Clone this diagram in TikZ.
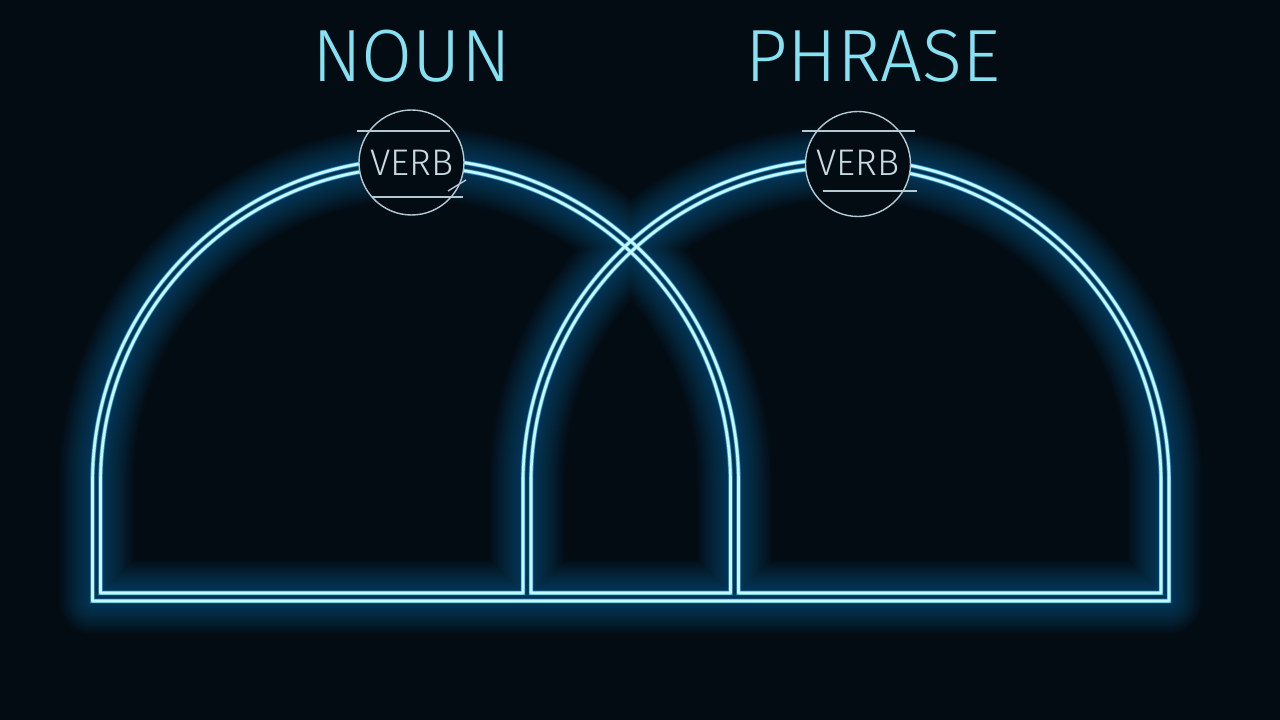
\documentclass[tikz,border=0pt]{standalone}
\usepackage{fontspec}
\IfFontExistsTF{Fira Sans Light}
  {\newfontfamily\neonfont{Fira Sans Light}}
  {\IfFontExistsTF{Lato Light}
    {\newfontfamily\neonfont{Lato Light}}
    {\IfFontExistsTF{Open Sans Light}
      {\newfontfamily\neonfont{Open Sans Light}}
      {\newfontfamily\neonfont{Fira Sans}}}}
\definecolor{night}{HTML}{030C13}
\definecolor{neon}{HTML}{C8F8FF}
\definecolor{halo}{HTML}{5CCBF0}
\definecolor{glow}{HTML}{1C8FDA}
\definecolor{title}{HTML}{86E2F2}
\definecolor{chalk}{HTML}{B2CAD4}

% outline of both arches, drawn as one line
\newcommand\archways{
  (92.5,238) -- (92.5,119) -- (1169,119) -- (1169,238)
  (92.5,238) arc[start angle=180, end angle=0, radius=323]
    -- (738.5,127) -- (1161,127) -- (1161,238)
    arc[start angle=0, end angle=180, radius=315]
    -- (531,127) -- (730.5,127) -- (730.5,238)
    arc[start angle=0, end angle=180, radius=315]
    -- (100.5,127) -- (523,127) -- (523,238)
    arc[start angle=180, end angle=0, radius=323]
}

\begin{document}
\begin{tikzpicture}[
  x=1pt, y=1pt,
  glow layer/.style={draw=glow, line width=#1, opacity=0.026, line join=round},
  neon line/.style={draw=neon, line width=2.6, line join=round},
  title/.style={font=\neonfont\fontsize{74}{76}\selectfont, text=title, anchor=base, inner sep=0},
  verb ring/.style={circle, draw=chalk, line width=1.4, fill=night, minimum size=105, inner sep=0},
  verb text/.style={font=\neonfont\fontsize{37}{40}\selectfont, text=chalk!70!white, anchor=base, inner sep=0},
  bar/.style={draw=chalk, line width=1.4}
]
\useasboundingbox (0,0) rectangle (1280,720);
\fill[night] (0,0) rectangle (1280,720);

% glow round the arches
\foreach \w in {66,62,...,6}
  \draw[glow layer=\w] \archways;
\draw[glow, line width=5, opacity=0.4] \archways;
\draw[draw=halo, line width=3.8, opacity=0.8] \archways;
\draw[neon line] \archways;

% titles
\node[title] (noun) at (411.5,638) {NOUN};
\node[title] (phrase) at (873,638) {PHRASE};

% verb rings
\node[verb ring] (ringL) at (411.5,557.5) {};
\node[verb ring] (ringR) at (858,556) {};
\draw[bar] (357,589) -- (450,589);
\draw[bar] (372,523) -- (463,523);
\draw[bar] (448,529) -- (466,540);
\draw[bar] (802,589) -- (915,589);
\draw[bar] (823,529) -- (917,529);
\node[verb text] (verbL) at (411.7,544) {VERB};
\node[verb text] (verbR) at (858,544) {VERB};
\end{tikzpicture}
\end{document}
